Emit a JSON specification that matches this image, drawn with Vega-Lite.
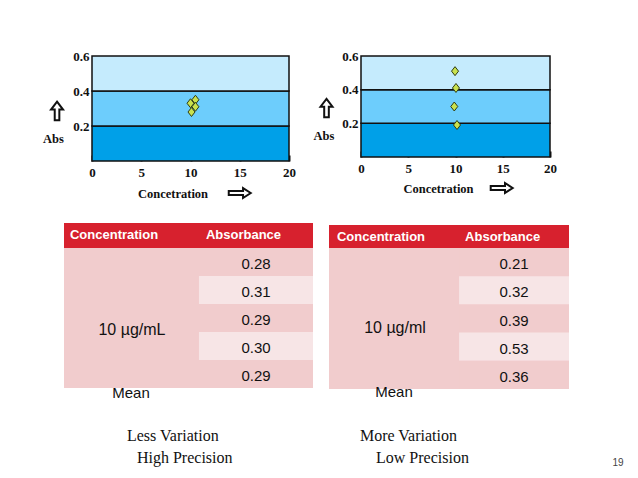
{
  "$schema": "https://vega.github.io/schema/vega-lite/v6.json",
  "width": 638,
  "height": 478,
  "autosize": {"type": "none"},
  "padding": 0,
  "background": "#ffffff",
  "config": {"view": {"stroke": null}, "axis": {"grid": false}},
  "datasets": {
    "bands": [
      {"band": "low", "lo": 0, "hi": 0.2},
      {"band": "mid", "lo": 0.2, "hi": 0.4},
      {"band": "high", "lo": 0.4, "hi": 0.6}
    ],
    "precise": [
      {"concentration": 10.5, "absorbance": 0.35},
      {"concentration": 10.0, "absorbance": 0.33},
      {"concentration": 10.5, "absorbance": 0.31},
      {"concentration": 10.1, "absorbance": 0.28}
    ],
    "imprecise": [
      {"concentration": 9.95, "absorbance": 0.51},
      {"concentration": 10.05, "absorbance": 0.41},
      {"concentration": 9.87, "absorbance": 0.30},
      {"concentration": 10.16, "absorbance": 0.19}
    ],
    "tableA": [
      {"trial": 1, "absorbance": 0.28},
      {"trial": 2, "absorbance": 0.31},
      {"trial": 3, "absorbance": 0.29},
      {"trial": 4, "absorbance": 0.30},
      {"trial": 5, "absorbance": 0.29}
    ],
    "tableB": [
      {"trial": 1, "absorbance": 0.21},
      {"trial": 2, "absorbance": 0.32},
      {"trial": 3, "absorbance": 0.39},
      {"trial": 4, "absorbance": 0.53},
      {"trial": 5, "absorbance": 0.36}
    ]
  },
  "layer": [
    {
      "layer": [
        {
          "data": {"name": "bands"},
          "mark": {"type": "rect", "stroke": "#111111", "strokeWidth": 1.5},
          "encoding": {
            "x": {"datum": 0, "type": "quantitative",
              "scale": {"domain": [0, 20], "range": [92, 289]},
              "axis": {"orient": "bottom", "offset": -317, "values": [0, 5, 10, 15, 20], "labelFlush": false,
                "domain": false, "ticks": true, "tickSize": -6, "tickWidth": 2, "tickColor": "#111111",
                "labelPadding": 11, "labelFont": "Liberation Serif", "labelFontWeight": "bold", "labelFontSize": 13, "labelColor": "#111111",
                "title": "Concetration", "titleFont": "Liberation Serif", "titleFontWeight": "bold", "titleFontSize": 12.5, "titleColor": "#111111",
                "titleX": 172.5, "titleY": 32, "titleAlign": "center", "titleBaseline": "middle", "titleAngle": 0}},
            "x2": {"datum": 20},
            "y": {"field": "lo", "type": "quantitative",
              "scale": {"domain": [0, 0.6], "range": [161, 56]},
              "axis": {"orient": "left", "offset": -92, "values": [0.2, 0.4, 0.6], "format": ".1f", "labelFlush": false,
                "domain": false, "ticks": false, "labelPadding": 3,
                "labelFont": "Liberation Serif", "labelFontWeight": "bold", "labelFontSize": 13, "labelColor": "#111111",
                "title": "Abs", "titleFont": "Liberation Serif", "titleFontWeight": "bold", "titleFontSize": 12.5, "titleColor": "#111111",
                "titleAngle": 0, "titleX": -39, "titleY": 138, "titleAlign": "center", "titleBaseline": "middle"}},
            "y2": {"field": "hi"},
            "fill": {"field": "band", "type": "nominal", "scale": {"domain": ["low", "mid", "high"], "range": ["#00a0e8", "#6dcdfc", "#c5ebfd"]}, "legend": null}
          }
        },
        {
          "data": {"name": "precise"},
          "mark": {"type": "point", "shape": "M0,-1L0.78,0L0,1L-0.78,0Z", "filled": true, "fill": "#c9e24f", "stroke": "#2f3d12", "strokeWidth": 1, "size": 81, "opacity": 1},
          "encoding": {
            "x": {"field": "concentration", "type": "quantitative"},
            "y": {"field": "absorbance", "type": "quantitative"}
          }
        },
        {
          "data": {"values": [{}]},
          "mark": {"type": "point", "shape": "M0,-1L0.65,-0.15L0.25,-0.15L0.25,1L-0.25,1L-0.25,-0.15L-0.65,-0.15Z", "filled": true, "fill": "#ffffff", "stroke": "#111111", "strokeWidth": 2, "size": 340, "opacity": 1},
          "encoding": {"x": {"datum": -3.55}, "y": {"datum": 0.286}}
        },
        {
          "data": {"values": [{}]},
          "mark": {"type": "point", "shape": "M1,0L0.3,-0.45L0.3,-0.18L-1,-0.18L-1,0.18L0.3,0.18L0.3,0.45Z", "filled": true, "fill": "#ffffff", "stroke": "#111111", "strokeWidth": 2, "size": 484, "opacity": 1},
          "encoding": {"x": {"datum": 15.0}, "y": {"datum": -0.183}}
        }
      ]
    },
    {
      "layer": [
        {
          "data": {"name": "bands"},
          "mark": {"type": "rect", "stroke": "#111111", "strokeWidth": 1.5},
          "encoding": {
            "x": {"datum": 0, "type": "quantitative",
              "scale": {"domain": [0, 20], "range": [361, 550]},
              "axis": {"orient": "bottom", "offset": -321, "values": [0, 5, 10, 15, 20], "labelFlush": false,
                "domain": false, "ticks": true, "tickSize": -6, "tickWidth": 2, "tickColor": "#111111",
                "labelPadding": 11, "labelFont": "Liberation Serif", "labelFontWeight": "bold", "labelFontSize": 13, "labelColor": "#111111",
                "title": "Concetration", "titleFont": "Liberation Serif", "titleFontWeight": "bold", "titleFontSize": 12.5, "titleColor": "#111111",
                "titleX": 438, "titleY": 31, "titleAlign": "center", "titleBaseline": "middle", "titleAngle": 0}},
            "x2": {"datum": 20},
            "y": {"field": "lo", "type": "quantitative",
              "scale": {"domain": [0, 0.6], "range": [157, 56]},
              "axis": {"orient": "left", "offset": -361, "values": [0.2, 0.4, 0.6], "format": ".1f", "labelFlush": false,
                "domain": false, "ticks": false, "labelPadding": 3,
                "labelFont": "Liberation Serif", "labelFontWeight": "bold", "labelFontSize": 13, "labelColor": "#111111",
                "title": "Abs", "titleFont": "Liberation Serif", "titleFontWeight": "bold", "titleFontSize": 12.5, "titleColor": "#111111",
                "titleAngle": 0, "titleX": -37.5, "titleY": 135, "titleAlign": "center", "titleBaseline": "middle"}},
            "y2": {"field": "hi"},
            "fill": {"field": "band", "type": "nominal", "scale": {"domain": ["low", "mid", "high"], "range": ["#00a0e8", "#6dcdfc", "#c5ebfd"]}, "legend": null}
          }
        },
        {
          "data": {"name": "imprecise"},
          "mark": {"type": "point", "shape": "M0,-1L0.78,0L0,1L-0.78,0Z", "filled": true, "fill": "#c9e24f", "stroke": "#2f3d12", "strokeWidth": 1, "size": 81, "opacity": 1},
          "encoding": {
            "x": {"field": "concentration", "type": "quantitative"},
            "y": {"field": "absorbance", "type": "quantitative"}
          }
        },
        {
          "data": {"values": [{}]},
          "mark": {"type": "point", "shape": "M0,-1L0.65,-0.15L0.25,-0.15L0.25,1L-0.25,1L-0.25,-0.15L-0.65,-0.15Z", "filled": true, "fill": "#ffffff", "stroke": "#111111", "strokeWidth": 2, "size": 340, "opacity": 1},
          "encoding": {"x": {"datum": -3.65}, "y": {"datum": 0.291}}
        },
        {
          "data": {"values": [{}]},
          "mark": {"type": "point", "shape": "M1,0L0.3,-0.45L0.3,-0.18L-1,-0.18L-1,0.18L0.3,0.18L0.3,0.45Z", "filled": true, "fill": "#ffffff", "stroke": "#111111", "strokeWidth": 2, "size": 484, "opacity": 1},
          "encoding": {"x": {"datum": 14.89}, "y": {"datum": -0.184}}
        }
      ]
    },
    {
      "layer": [
        {
          "layer": [
            {
              "data": {"values": [{}]},
              "mark": {"type": "rect", "fill": "#d7212e"},
              "encoding": {
                "x": {"datum": 0, "type": "quantitative", "scale": {"domain": [0, 1], "range": [64, 313]}, "axis": null},
                "x2": {"datum": 1},
                "y": {"datum": 0, "type": "quantitative", "scale": {"domain": [0, 6], "range": [223, 388]}, "axis": null},
                "y2": {"datum": 0.91}
              }
            },
            {
              "data": {"values": [{}]},
              "mark": {"type": "rect", "fill": "#f1cccd"},
              "encoding": {"x": {"datum": 0}, "x2": {"datum": 1}, "y": {"datum": 0.91}, "y2": {"datum": 6}}
            },
            {
              "data": {"values": [{}]},
              "mark": {"type": "text", "align": "left", "baseline": "middle", "font": "Liberation Sans", "fontWeight": "bold", "fontSize": 13, "color": "#ffffff"},
              "encoding": {"x": {"datum": 0.024}, "y": {"datum": 0.436}, "text": {"value": "Concentration"}}
            },
            {
              "data": {"values": [{}]},
              "mark": {"type": "text", "align": "left", "baseline": "middle", "font": "Liberation Sans", "fontWeight": "bold", "fontSize": 13, "color": "#ffffff"},
              "encoding": {"x": {"datum": 0.57}, "y": {"datum": 0.436}, "text": {"value": "Absorbance"}}
            },
            {
              "data": {"values": [{}]},
              "mark": {"type": "text", "align": "center", "baseline": "middle", "font": "Liberation Sans", "fontSize": 16, "color": "#111111"},
              "encoding": {"x": {"datum": 0.273}, "y": {"datum": 3.89}, "text": {"value": "10 µg/mL"}}
            },
            {
              "data": {"values": [{}]},
              "mark": {"type": "text", "align": "center", "baseline": "middle", "font": "Liberation Sans", "fontSize": 15, "color": "#111111"},
              "encoding": {"x": {"datum": 0.269}, "y": {"datum": 6.18}, "text": {"value": "Mean"}}
            },
            {
              "data": {"values": [{}]},
              "mark": {"type": "text", "align": "left", "baseline": "middle", "font": "Liberation Serif", "fontSize": 16, "color": "#111111"},
              "encoding": {"x": {"datum": 0.253}, "y": {"datum": 7.745}, "text": {"value": "Less Variation"}}
            },
            {
              "data": {"values": [{}]},
              "mark": {"type": "text", "align": "left", "baseline": "middle", "font": "Liberation Serif", "fontSize": 16, "color": "#111111"},
              "encoding": {"x": {"datum": 0.293}, "y": {"datum": 8.545}, "text": {"value": "High Precision"}}
            }
          ]
        },
        {
          "data": {"name": "tableA"},
          "encoding": {"y": {"field": "trial", "type": "ordinal", "scale": {"range": [248, 388], "paddingInner": 0, "paddingOuter": 0}, "axis": null}},
          "layer": [
            {
              "mark": {"type": "rect"},
              "encoding": {
                "x": {"datum": 0.542}, "x2": {"datum": 1},
                "fill": {"field": "trial", "type": "ordinal", "scale": {"domain": [1, 2, 3, 4, 5], "range": ["#f1cccd", "#f7e5e6", "#f1cccd", "#f7e5e6", "#f1cccd"]}, "legend": null}
              }
            },
            {
              "mark": {"type": "text", "font": "Liberation Sans", "fontSize": 15, "color": "#111111", "dy": 2},
              "encoding": {"x": {"datum": 0.771}, "text": {"field": "absorbance", "type": "quantitative", "format": ".2f"}}
            }
          ]
        }
      ],
      "resolve": {"scale": {"y": "independent"}}
    },
    {
      "layer": [
        {
          "layer": [
            {
              "data": {"values": [{}]},
              "mark": {"type": "rect", "fill": "#d7212e"},
              "encoding": {
                "x": {"datum": 0, "type": "quantitative", "scale": {"domain": [0, 1], "range": [329, 569]}, "axis": null},
                "x2": {"datum": 1},
                "y": {"datum": 0, "type": "quantitative", "scale": {"domain": [0, 6], "range": [225, 389]}, "axis": null},
                "y2": {"datum": 0.84}
              }
            },
            {
              "data": {"values": [{}]},
              "mark": {"type": "rect", "fill": "#f1cccd"},
              "encoding": {"x": {"datum": 0}, "x2": {"datum": 1}, "y": {"datum": 0.84}, "y2": {"datum": 6}}
            },
            {
              "data": {"values": [{}]},
              "mark": {"type": "text", "align": "left", "baseline": "middle", "font": "Liberation Sans", "fontWeight": "bold", "fontSize": 13, "color": "#ffffff"},
              "encoding": {"x": {"datum": 0.033}, "y": {"datum": 0.44}, "text": {"value": "Concentration"}}
            },
            {
              "data": {"values": [{}]},
              "mark": {"type": "text", "align": "left", "baseline": "middle", "font": "Liberation Sans", "fontWeight": "bold", "fontSize": 13, "color": "#ffffff"},
              "encoding": {"x": {"datum": 0.567}, "y": {"datum": 0.44}, "text": {"value": "Absorbance"}}
            },
            {
              "data": {"values": [{}]},
              "mark": {"type": "text", "align": "center", "baseline": "middle", "font": "Liberation Sans", "fontSize": 16, "color": "#111111"},
              "encoding": {"x": {"datum": 0.275}, "y": {"datum": 3.77}, "text": {"value": "10 µg/ml"}}
            },
            {
              "data": {"values": [{}]},
              "mark": {"type": "text", "align": "center", "baseline": "middle", "font": "Liberation Sans", "fontSize": 15, "color": "#111111"},
              "encoding": {"x": {"datum": 0.271}, "y": {"datum": 6.11}, "text": {"value": "Mean"}}
            },
            {
              "data": {"values": [{}]},
              "mark": {"type": "text", "align": "left", "baseline": "middle", "font": "Liberation Serif", "fontSize": 16, "color": "#111111"},
              "encoding": {"x": {"datum": 0.129}, "y": {"datum": 7.72}, "text": {"value": "More Variation"}}
            },
            {
              "data": {"values": [{}]},
              "mark": {"type": "text", "align": "left", "baseline": "middle", "font": "Liberation Serif", "fontSize": 16, "color": "#111111"},
              "encoding": {"x": {"datum": 0.196}, "y": {"datum": 8.53}, "text": {"value": "Low Precision"}}
            },
            {
              "data": {"values": [{}]},
              "mark": {"type": "text", "align": "center", "baseline": "middle", "font": "Liberation Sans", "fontSize": 10, "color": "#444444"},
              "encoding": {"x": {"datum": 1.204}, "y": {"datum": 8.71}, "text": {"value": "19"}}
            }
          ]
        },
        {
          "data": {"name": "tableB"},
          "encoding": {"y": {"field": "trial", "type": "ordinal", "scale": {"range": [248, 389], "paddingInner": 0, "paddingOuter": 0}, "axis": null}},
          "layer": [
            {
              "mark": {"type": "rect"},
              "encoding": {
                "x": {"datum": 0.542}, "x2": {"datum": 1},
                "fill": {"field": "trial", "type": "ordinal", "scale": {"domain": [1, 2, 3, 4, 5], "range": ["#f1cccd", "#f7e5e6", "#f1cccd", "#f7e5e6", "#f1cccd"]}, "legend": null}
              }
            },
            {
              "mark": {"type": "text", "font": "Liberation Sans", "fontSize": 15, "color": "#111111", "dy": 2},
              "encoding": {"x": {"datum": 0.771}, "text": {"field": "absorbance", "type": "quantitative", "format": ".2f"}}
            }
          ]
        }
      ],
      "resolve": {"scale": {"y": "independent"}}
    }
  ],
  "resolve": {"scale": {"x": "independent", "y": "independent", "fill": "independent"}}
}
